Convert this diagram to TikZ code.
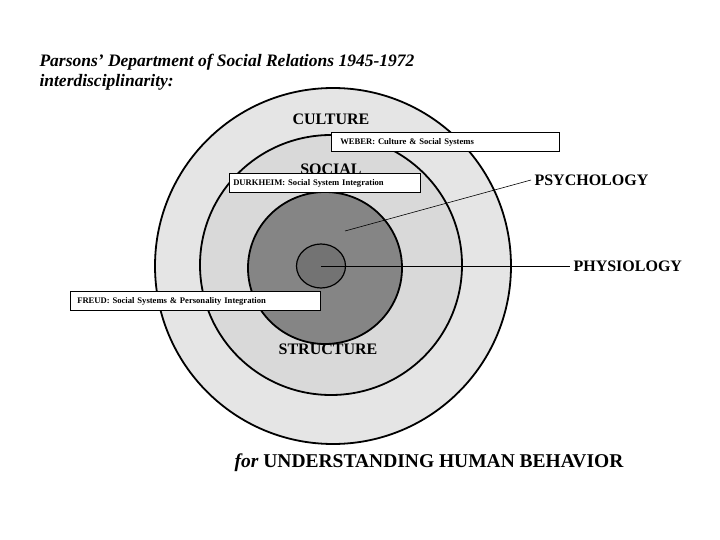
\documentclass[tikz,border=0pt]{standalone}
\usepackage{fontspec}
\usetikzlibrary{shapes.geometric}
\setmainfont{Liberation Serif}
\begin{document}
\begin{tikzpicture}[x=1pt,y=-1pt,
 ring/.style={draw=black,line width=1.8pt},
 lbl/.style={draw=black,fill=white,line width=0.5pt,font=\bfseries\fontsize{8.6}{9}\selectfont,anchor=west,inner xsep=7pt,inner ysep=0pt,minimum height=19pt,align=left},
 big/.style={font=\bfseries\fontsize{16}{18}\selectfont}]
\useasboundingbox (0,0) rectangle (720,540);
\fill[white] (0,0) rectangle (720,540);
\node[anchor=west,font=\bfseries\itshape\fontsize{17.5}{20}\selectfont,align=left] (title) at (36,72) {Parsons’ Department of Social Relations 1945-1972\\interdisciplinarity:};
\node[ring,ellipse,fill=gray!20,minimum width=356,minimum height=356,inner sep=0] (c1) at (333,266) {};
\node[ring,ellipse,fill=gray!30,minimum width=262,minimum height=260,inner sep=0] (c2) at (331,265) {};
\node[ring,ellipse,fill=black!48,minimum width=154,minimum height=152,inner sep=0] (c3) at (325,268) {};
\node[ring,line width=1.2pt,ellipse,fill=black!55,minimum width=49,minimum height=44,inner sep=0] (c4) at (321,266) {};
\node[big] (cult) at (331,119) {CULTURE};
\node[big] (soc) at (331,169) {SOCIAL};
\node[big] (str) at (328,349) {STRUCTURE};
\node[lbl,text width=214pt] (weber) at (331,142) {\hspace{2pt}WEBER: Culture \& Social Systems};
\node[lbl,text width=183pt,inner xsep=4pt] (durk) at (229,183) {DURKHEIM: Social System Integration};
\node[lbl,text width=236pt] (freud) at (70,301) {FREUD: Social Systems \& Personality Integration};
\node[big,anchor=west] (psy) at (531,180) {PSYCHOLOGY};
\node[big,anchor=west] (phy) at (570,266) {PHYSIOLOGY};
\coordinate (p1) at (345,231);
\draw[line width=0.6pt] (p1) -- (psy.west);
\draw[line width=0.7pt] (c4.center) -- (phy.west);
\node[anchor=west,font=\bfseries\fontsize{19.5}{22}\selectfont] (foot) at (231,463) {\textit{for} UNDERSTANDING HUMAN BEHAVIOR};
\end{tikzpicture}
\end{document}
